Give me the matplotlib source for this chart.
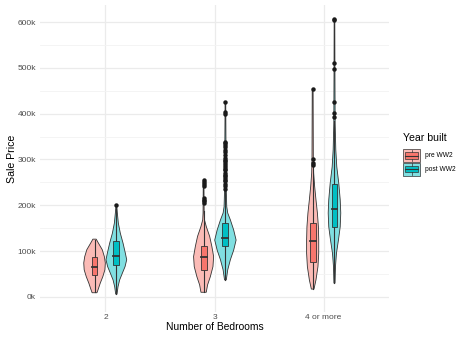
import numpy as np
import matplotlib.pyplot as plt
from matplotlib.patches import Rectangle

plt.rcParams['font.family'] = ['Liberation Sans', 'DejaVu Sans']

bedrooms = ['2', '3', '4 or more']
eras = ['pre WW2', 'post WW2']
era_colors = {'pre WW2': '#F8766D', 'post WW2': '#00BFC4'}
era_light = {'pre WW2': '#FBBBB6', 'post WW2': '#80DFE1'}

# violin outlines: sale price (thousands) and relative density
pre_2_price = [9, 17, 30, 44, 59, 74, 88, 103, 117, 126]
pre_2_dens = [0.22, 0.34, 0.52, 0.75, 0.94, 0.98, 0.89, 0.70, 0.36, 0.15]
post_2_price = [6, 22, 37, 52, 66, 81, 95, 117, 139, 161, 183, 201]
post_2_dens = [0.06, 0.15, 0.30, 0.55, 0.79, 0.94, 0.82, 0.61, 0.36, 0.18, 0.09, 0.03]

pre_3_price = [10, 26, 44, 66, 88, 110, 132, 153, 168, 183, 255]
pre_3_dens = [0.24, 0.36, 0.61, 0.85, 0.91, 0.75, 0.55, 0.25, 0.08, 0.05, 0.03]
post_3_price = [37, 59, 81, 102, 124, 146, 168, 183, 197, 240, 340, 426]
post_3_dens = [0.08, 0.21, 0.45, 0.75, 0.97, 0.75, 0.45, 0.21, 0.12, 0.07, 0.05, 0.03]

pre_4_price = [17, 37, 66, 95, 124, 153, 183, 212, 241, 270, 300, 453]
pre_4_dens = [0.12, 0.30, 0.48, 0.55, 0.55, 0.52, 0.43, 0.30, 0.18, 0.09, 0.06, 0.04]
post_4_price = [30, 66, 95, 124, 153, 183, 212, 248, 284, 321, 379, 500, 606]
post_4_dens = [0.05, 0.09, 0.18, 0.36, 0.52, 0.57, 0.52, 0.39, 0.21, 0.12, 0.06, 0.04, 0.03]

# boxplot stats: lower whisker, q1, median, q3, upper whisker
pre_2_box = [10, 47, 66, 86, 125]
post_2_box = [7, 70, 89, 121, 196]
pre_3_box = [10, 59, 87, 112, 188]
post_3_box = [37, 110, 128, 161, 233]
pre_4_box = [17, 77, 123, 161, 285]
post_4_box = [30, 153, 191, 246, 385]

pre_2_out = []
post_2_out = [201]
pre_3_out = [205, 210, 212, 215, 242, 246, 250, 255]
post_3_out = [236, 242, 247, 252, 256, 260, 263, 266, 270, 276, 280, 284, 288,
              292, 296, 299, 304, 310, 316, 321, 327, 332, 335, 339, 400, 404, 426]
pre_4_out = [288, 293, 300, 453]
post_4_out = [393, 401, 426, 497, 511, 604, 606]

violins = {
    ('2', 'pre WW2'): (pre_2_price, pre_2_dens, pre_2_box, pre_2_out),
    ('2', 'post WW2'): (post_2_price, post_2_dens, post_2_box, post_2_out),
    ('3', 'pre WW2'): (pre_3_price, pre_3_dens, pre_3_box, pre_3_out),
    ('3', 'post WW2'): (post_3_price, post_3_dens, post_3_box, post_3_out),
    ('4 or more', 'pre WW2'): (pre_4_price, pre_4_dens, pre_4_box, pre_4_out),
    ('4 or more', 'post WW2'): (post_4_price, post_4_dens, post_4_box, post_4_out),
}

DODGE = 0.1
HALF = 0.101
BOX_HALF = 0.027
EDGE = '#333333'

fig = plt.figure(figsize=(4.74, 3.38), dpi=100)
ax = fig.add_axes([0.0844, 0.077, 0.7363, 0.908])

for i, bed in enumerate(bedrooms):
    for j, era in enumerate(eras):
        price, dens, box, out = violins[(bed, era)]
        xc = i + 1 + (DODGE if j else -DODGE)
        price = np.array(price, dtype=float)
        w = np.array(dens) * HALF
        xs = np.concatenate([xc - w, (xc + w)[::-1]])
        ys = np.concatenate([price, price[::-1]])
        ax.fill(xs, ys, facecolor=era_light[era], edgecolor=EDGE, lw=0.6, zorder=2)

        lo, q1, med, q3, hi = box
        ax.plot([xc, xc], [lo, q1], color=EDGE, lw=0.8, zorder=3)
        ax.plot([xc, xc], [q3, hi], color=EDGE, lw=0.8, zorder=3)
        ax.add_patch(Rectangle((xc - BOX_HALF, q1), 2 * BOX_HALF, q3 - q1,
                               facecolor=era_colors[era], edgecolor=EDGE,
                               lw=0.6, zorder=4))
        ax.plot([xc - BOX_HALF, xc + BOX_HALF], [med, med], color=EDGE,
                lw=1.3, zorder=5)
        if out:
            ax.plot([xc] * len(out), out, 'o', color='#1a1a1a', ms=3.2,
                    mew=0, zorder=6)

ax.set_xlim(0.4, 3.6)
ax.set_ylim(-33, 637)
ax.set_xticks([1, 2, 3])
ax.set_xticklabels(bedrooms)
yt = np.arange(0, 601, 100)
ax.set_yticks(yt)
ax.set_yticklabels(['%dk' % v for v in yt])
ax.set_yticks(np.arange(50, 601, 100), minor=True)

ax.grid(True, which='major', color='#EBEBEB', lw=0.9)
ax.grid(True, which='minor', axis='y', color='#F3F3F3', lw=0.6)
ax.set_axisbelow(True)
for s in ax.spines.values():
    s.set_visible(False)
ax.tick_params(length=0, labelsize=6, labelcolor='#4D4D4D', pad=3)
ax.tick_params(axis='x', pad=1.5)
ax.tick_params(which='minor', length=0)

ax.set_xlabel('Number of Bedrooms', fontsize=7.4, color='black', labelpad=1)
ax.set_ylabel('Sale Price', fontsize=7.6, color='black', labelpad=0.5)

# legend drawn by hand: violin key with a boxplot inside
fig.text(403 / 474, 1 - 138 / 338, 'Year built', fontsize=7.6,
         ha='left', va='center')
kw, kh = 17 / 474, 13 / 338
for k, era in enumerate(eras):
    x0 = 403 / 474
    y0 = 1 - (148.5 + 13.5 * (k + 1)) / 338
    fig.patches.append(Rectangle((x0, y0), kw, kh, transform=fig.transFigure,
                                 facecolor=era_light[era], edgecolor=EDGE, lw=0.5))
    fig.patches.append(Rectangle((x0 + 0.1 * kw, y0 + 0.25 * kh), 0.8 * kw,
                                 0.5 * kh, transform=fig.transFigure,
                                 facecolor=era_colors[era], edgecolor=EDGE, lw=0.5))
    fig.lines.append(plt.Line2D([x0 + 0.1 * kw, x0 + 0.9 * kw],
                                [y0 + 0.5 * kh] * 2, transform=fig.transFigure,
                                color=EDGE, lw=0.8))
    for a, b in [(0.05, 0.25), (0.75, 0.95)]:
        fig.lines.append(plt.Line2D([x0 + 0.5 * kw] * 2,
                                    [y0 + a * kh, y0 + b * kh],
                                    transform=fig.transFigure, color=EDGE, lw=0.5))
    fig.text(x0 + kw + 5 / 474, y0 + 0.5 * kh, era, fontsize=4.8,
             ha='left', va='center')

fig.savefig('out.png', dpi=100)
